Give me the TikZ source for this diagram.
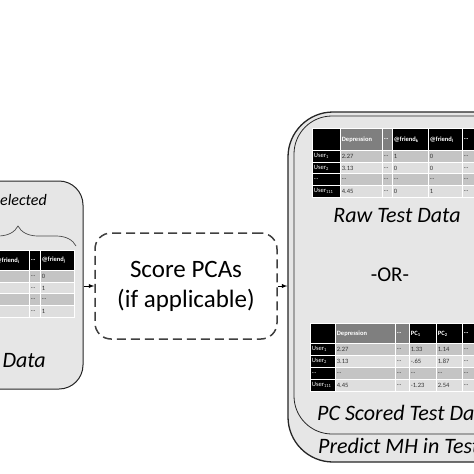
\documentclass[tikz,border=0pt]{standalone}
\usepackage{fontspec}
\setmainfont{Carlito}
\usetikzlibrary{arrows,decorations.pathreplacing}

\definecolor{boxgray}{HTML}{E6E6E6}
\definecolor{rowdark}{HTML}{C4C4C4}
\definecolor{rowlight}{HTML}{DEDEDE}
\definecolor{hdrgray}{HTML}{7F7F7F}

\begin{document}
\begin{tikzpicture}[x=1pt,y=-1pt,
	panel/.style={draw=black!85, line width=1pt, fill=boxgray},
	cell/.style={draw=white, line width=0.8pt, anchor=north west, inner sep=1.5pt, align=left, text=black!80, font=\fontsize{6.5}{7}\selectfont},
	hcell/.style={cell, text=white, font=\fontsize{6.5}{7}\selectfont\bfseries},
	title/.style={inner sep=0pt, font=\fontsize{22}{26}\selectfont\itshape}]
			\useasboundingbox (0,0) rectangle (474,474);
			\clip (0,0) rectangle (474,474);
			\fill [white] (0,0) rectangle (474,474);
			% the three boxes
			\node [panel, rounded corners=24pt, minimum width=123pt, minimum height=208pt] (train) at (21.5,285) {};
			\node [draw=black!75, dash pattern=on 9pt off 5pt, line width=1.5pt, rounded corners=16pt, minimum width=182pt, minimum height=106pt, align=center, font=\fontsize{25}{30}\selectfont] (score) at (186,286) {Score PCAs\\(if applicable)};
			\node [panel, line width=1.3pt, rounded corners=45pt, minimum width=252pt, minimum height=350pt] (predict) at (414,287) {};
			\node [panel, line width=0.8pt, rounded corners=38pt, minimum width=246pt, minimum height=318pt] (testdata) at (417,275) {};
			\draw [-latex, line width=0.9pt] (train.east |- score.west) -- (score.west);
			\draw [-latex, line width=0.9pt] (score.east) -- (score.east -| predict.west);
			% selected features
			\node [title, font=\fontsize{16}{19}\selectfont\itshape, anchor=base east] (selected) at (47,205) {Selected};
			\draw [decorate, decoration={brace, amplitude=20pt}, draw=black!70, line width=0.7pt] (-40,246) -- (76,246);
			\foreach \x/\w/\t [count=\c] in {-6/35/@friend\textsubscript{i}, 29/11/\ldots, 40/34/@friend\textsubscript{j}}{
				\pgfmathsetmacro\tw{\w-3}
				\node [hcell, fill=black, text width=\tw pt, minimum height=20pt] (sel-0-\c) at (\x,250) {\t};
			}
			\foreach \y/\f/\vals [count=\r] in {270/rowdark/{{},\ldots,0}, 282/rowlight/{{},\ldots,1}, 293/rowdark/{\ldots,\ldots,\ldots}, 305/rowlight/{{},\ldots,1}}{
				\foreach \v [count=\c] in \vals {
					\pgfmathsetmacro\cx{{-6,29,40}[\c-1]}
					\pgfmathsetmacro\tw{{35,11,34}[\c-1]-3}
					\node [cell, fill=\f, text width=\tw pt, minimum height=12pt] (sel-\r-\c) at (\cx,\y) {\v};
				}
			}
			\node [title, anchor=base east] (traindata) at (46,367) {Data};
			% raw test data
			\foreach \x/\w/\f/\t [count=\c] in {312/28/black/{}, 340/42/hdrgray/Depression, 382/10/hdrgray/\ldots, 392/36/black/@friend\textsubscript{k}, 428/34/black/@friend\textsubscript{l}, 462/30/black/\ldots}{
				\pgfmathsetmacro\tw{\w-3}
				\node [hcell, fill=\f, text width=\tw pt, minimum height=22pt] (raw-0-\c) at (\x,128) {\t};
			}
			\foreach \y/\f/\u/\vals [count=\r] in {150/rowdark/User\textsubscript{1}/{2.27,\ldots,1,0,\ldots}, 162/rowlight/User\textsubscript{2}/{3.13,\ldots,0,0,\ldots}, 173/rowdark/\ldots/{\ldots,\ldots,\ldots,\ldots,\ldots}, 185/rowlight/User\textsubscript{111}/{4.45,\ldots,0,1,\ldots}}{
				\node [cell, fill=black, text=white, text width=25pt, minimum height=12pt] (raw-\r-1) at (312,\y) {\u};
				\foreach \v [count=\c from 2] in \vals {
					\pgfmathsetmacro\cx{{312,340,382,392,428,462}[\c-1]}
					\pgfmathsetmacro\tw{{28,42,10,36,34,30}[\c-1]-3}
					\node [cell, fill=\f, text width=\tw pt, minimum height=12pt] (raw-\r-\c) at (\cx,\y) {\v};
				}
			}
			\node [title, anchor=base] (rawtitle) at (397,222) {Raw Test Data};
			\node [inner sep=0pt, font=\fontsize{21}{24}\selectfont] (or) at (390,275) {-OR-};
			% pc scored test data
			\foreach \x/\w/\f/\t [count=\c] in {310/25/black/{}, 335/60/hdrgray/Depression, 395/14/hdrgray/\ldots, 409/27/black/PC\textsubscript{1}, 436/26/black/PC\textsubscript{2}, 462/30/black/\ldots}{
				\pgfmathsetmacro\tw{\w-3}
				\node [hcell, fill=\f, text width=\tw pt, minimum height=20pt] (pc-0-\c) at (\x,323) {\t};
			}
			\foreach \y/\f/\u/\vals [count=\r] in {343/rowdark/User\textsubscript{1}/{2.27,\ldots,1.33,1.14,\ldots}, 355/rowlight/User\textsubscript{2}/{3.13,\ldots,-.65,1.87,\ldots}, 367/rowdark/\ldots/{\ldots,\ldots,\ldots,\ldots,\ldots}, 379/rowlight/User\textsubscript{111}/{4.45,\ldots,-1.23,2.54,\ldots}}{
				\node [cell, fill=black, text=white, text width=22pt, minimum height=12pt] (pc-\r-1) at (310,\y) {\u};
				\foreach \v [count=\c from 2] in \vals {
					\pgfmathsetmacro\cx{{310,335,395,409,436,462}[\c-1]}
					\pgfmathsetmacro\tw{{25,60,14,27,26,30}[\c-1]-3}
					\node [cell, fill=\f, text width=\tw pt, minimum height=12pt] (pc-\r-\c) at (\cx,\y) {\v};
				}
			}
			\node [title, anchor=base west] (pctitle) at (317,420) {PC Scored Test Data};
			\node [title, anchor=base west] (mhtitle) at (318,453) {Predict MH in Test Data};
\end{tikzpicture}
\end{document}
